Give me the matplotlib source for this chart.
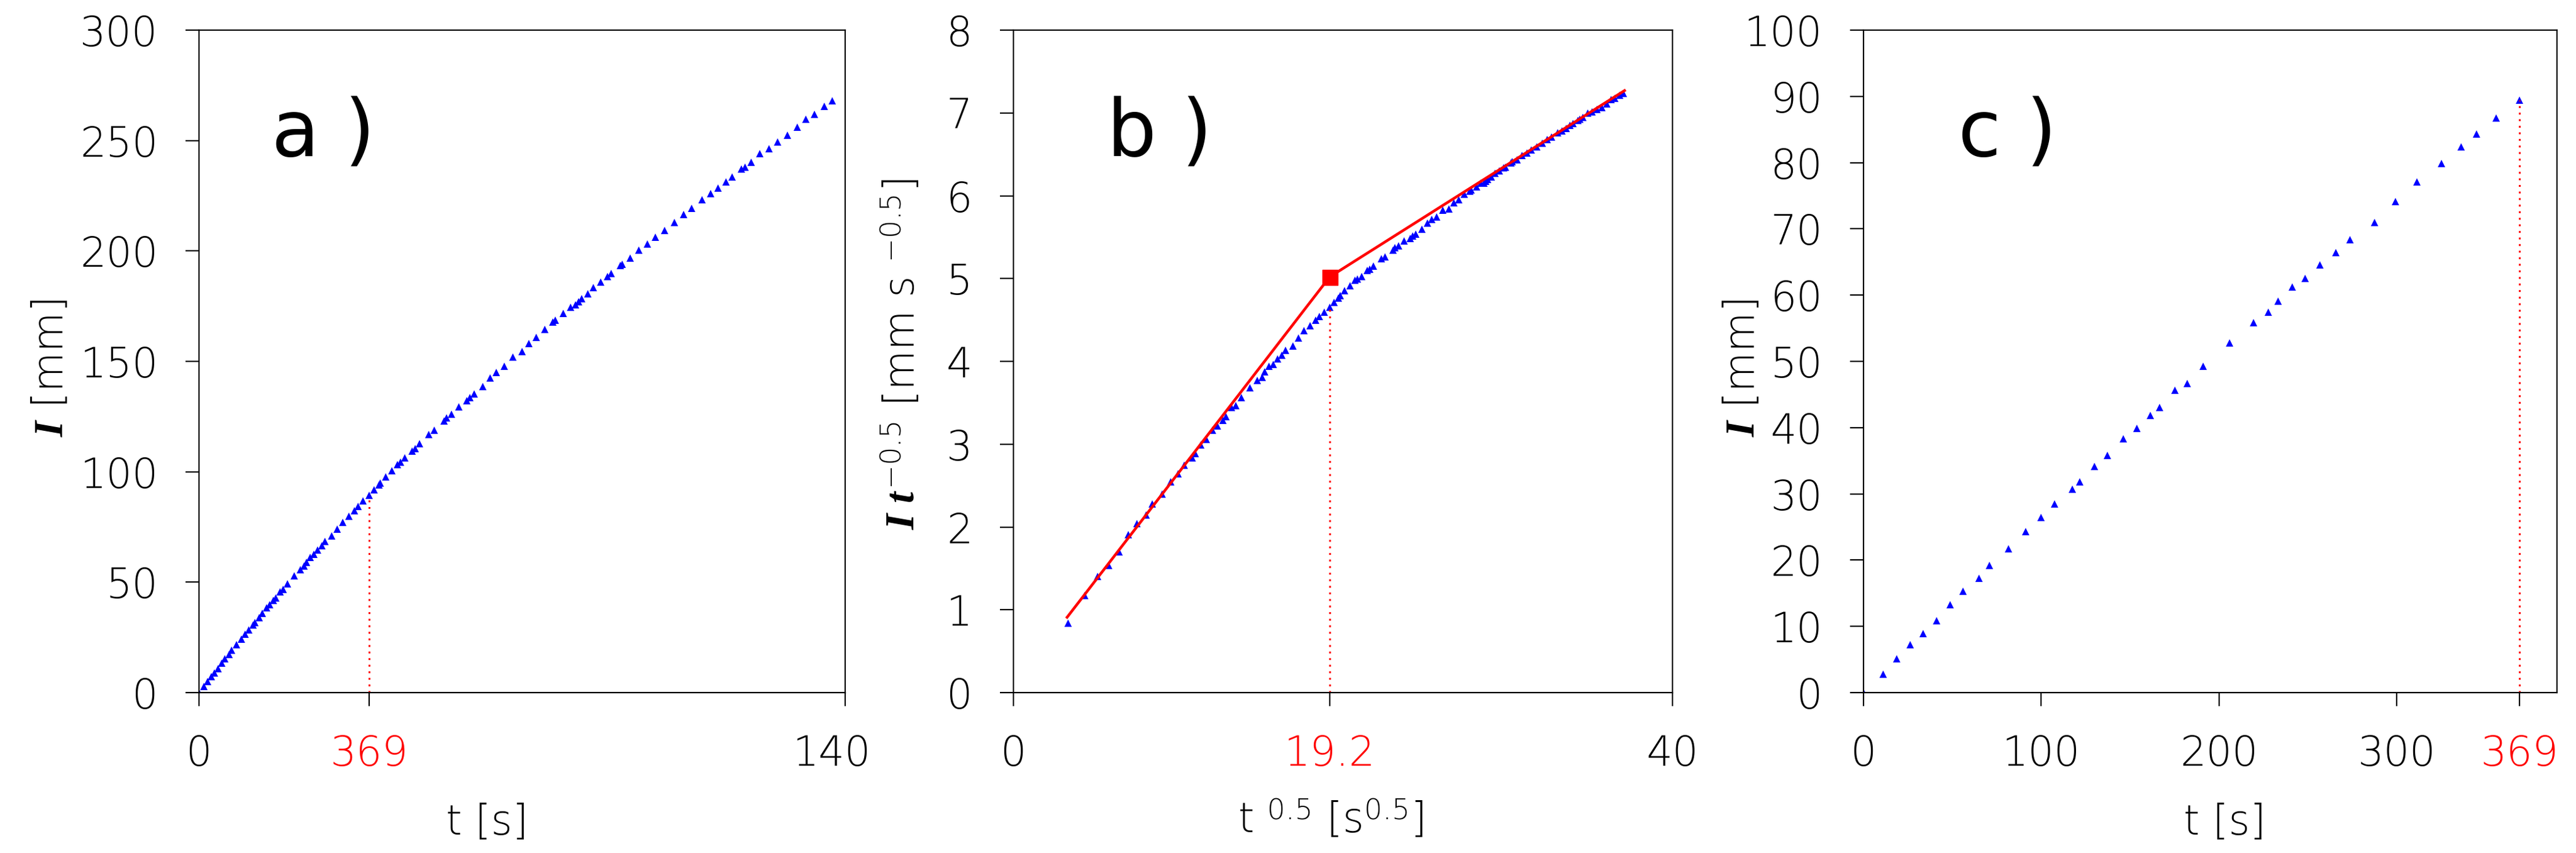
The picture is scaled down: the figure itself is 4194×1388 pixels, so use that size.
import numpy as np
import matplotlib
matplotlib.use("Agg")
import matplotlib.pyplot as plt
from matplotlib.transforms import Bbox

# infiltration data: time [s] and cumulative infiltration I [mm]
t_s = [0.0, 11.1, 18.8, 26.2, 33.6, 41.0, 48.7, 56.1, 65.1, 70.9,
       81.7, 91.3, 99.9, 107.6, 117.5, 121.5, 129.8, 137.2, 146.2, 153.6,
       161.3, 166.5, 175.1, 181.9, 191.2, 206.0, 219.2, 227.6, 233.1, 241.1,
       248.5, 256.8, 265.8, 273.5, 287.4, 299.1, 311.4, 325.0, 336.1, 344.7,
       355.8, 368.8,
       379.3, 389.5, 393.0, 404.2, 417.5, 429.4, 436.1, 446.3, 461.8, 468.5,
       478.2, 498.2, 509.3, 530.6, 535.9, 547.0, 562.5, 580.3, 586.9, 595.8,
       614.9, 631.3, 644.6, 661.0, 680.1, 699.6, 714.7, 731.1, 748.8, 766.6,
       771.9, 789.6, 805.2, 816.2, 822.1, 828.7, 842.0, 854.4, 870.8, 885.5,
       893.0, 913.0, 916.5, 933.8, 952.9, 971.5, 989.2, 1009.2, 1029.7, 1049.6,
       1066.9, 1090.4, 1108.2, 1125.0, 1142.3, 1154.7, 1175.5, 1182.7, 1196.0, 1214.6,
       1234.6, 1253.7, 1275.4, 1296.7, 1315.3, 1333.5, 1354.4, 1372.1]
I_mm = [0.0, 2.8, 5.1, 7.2, 8.9, 10.9, 13.3, 15.3, 17.3, 19.2,
        21.7, 24.3, 26.4, 28.5, 30.7, 31.8, 34.1, 35.8, 38.3, 39.9,
        41.8, 43.0, 45.6, 46.7, 49.3, 52.8, 55.8, 57.4, 59.1, 61.2,
        62.5, 64.6, 66.4, 68.4, 71.0, 74.1, 77.1, 79.9, 82.4, 84.3,
        86.7, 89.4,
        91.8, 94.1, 95.0, 97.6, 100.4, 103.2, 104.3, 106.2, 109.5, 110.6,
        112.7, 116.9, 118.8, 123.1, 124.3, 126.2, 129.4, 132.2, 133.5, 135.2,
        138.7, 142.4, 145.1, 147.7, 151.9, 154.5, 158.1, 160.9, 164.6, 167.7,
        168.6, 171.7, 174.5, 175.7, 177.0, 178.3, 180.7, 183.4, 186.0, 188.5,
        189.7, 193.4, 194.1, 196.7, 200.3, 203.1, 206.2, 209.3, 212.9, 216.5,
        219.2, 223.3, 225.9, 228.6, 231.4, 233.5, 237.0, 238.0, 240.3, 244.0,
        246.3, 249.3, 252.4, 256.1, 259.7, 262.0, 265.6, 267.9]

# break point and the two fitted segments of panel b
t_break = 369
fit_x = [3.26, 19.2, 37.1]
fit_y = [0.91, 5.02, 7.27]

plt.rcParams['font.family'] = 'DejaVu Sans'
plt.rcParams['mathtext.fontset'] = 'custom'
plt.rcParams['mathtext.it'] = 'Liberation Serif:style=italic:weight=bold'
plt.rcParams['mathtext.rm'] = 'DejaVu Sans:weight=200'

THIN = 200
TICK_FS = 48
LABEL_FS = 48

t = np.array(t_s)
I = np.array(I_mm)
i_break = int(np.argmin(np.abs(t - t_break)))
I_break = I[i_break]

fig = plt.figure(figsize=(41.94, 13.88), dpi=100)
bottom, height = 0.188, 0.7767
ax_a = fig.add_axes([0.07725, bottom, 0.2508, height])
ax_b = fig.add_axes([0.3934, bottom, 0.2558, height])
ax_c = fig.add_axes([0.7234, bottom, 0.2692, height])


def style_axes(ax):
    for sp in ax.spines.values():
        sp.set_linewidth(1.6)
    ax.tick_params(direction='out', length=16, width=1.6, pad=32,
                   labelsize=TICK_FS, top=False, right=False)
    for lab in ax.get_xticklabels() + ax.get_yticklabels():
        lab.set_fontweight(THIN)


def put_labels(ax, xlabel, ylabel, xpos, ypos):
    ax.set_xlabel(xlabel, fontsize=LABEL_FS, fontweight=THIN)
    ax.set_ylabel(ylabel, fontsize=LABEL_FS, fontweight=THIN)
    ax.xaxis.set_label_coords(*xpos)
    ax.xaxis.label.set_va('center')
    ax.yaxis.set_label_coords(*ypos)
    ax.yaxis.label.set_va('center')


# a) I against t
ax_a.plot(t, I, '^', color='blue', markersize=9, markeredgewidth=0)
ax_a.plot([t_break, t_break], [0, I_break], color='red', lw=2.2,
          dashes=(1, 2.5))
ax_a.set_xlim(0, 1400)
ax_a.set_ylim(0, 300)
ax_a.set_xticks([0, t_break, 1400], ['0', str(t_break), '1400'])
ax_a.set_yticks(range(0, 301, 50))
style_axes(ax_a)
ax_a.get_xticklabels()[1].set_color('red')
put_labels(ax_a, 't [s]', '$I$ [mm]', (0.446, -0.197), (-0.229, 0.49))
ax_a.text(0.112, 0.81, 'a )', transform=ax_a.transAxes, fontsize=92,
          ha='left', va='baseline')

# b) I t^-0.5 against t^0.5
rt = np.sqrt(t[1:])
ax_b.plot(rt, I[1:] / rt, '^', color='blue', markersize=9, markeredgewidth=0)
ax_b.plot(fit_x, fit_y, color='red', lw=3.2)
ax_b.plot(fit_x[1], fit_y[1], 's', color='red', markersize=18)
ax_b.plot([fit_x[1], fit_x[1]], [0, I_break / np.sqrt(t[i_break])],
          color='red', lw=2.2, dashes=(1, 2.5))
ax_b.set_xlim(0, 40)
ax_b.set_ylim(0, 8)
ax_b.set_xticks([0, fit_x[1], 40], ['0', '19.2', '40'])
ax_b.set_yticks(range(0, 9))
style_axes(ax_b)
ax_b.get_xticklabels()[1].set_color('red')
put_labels(ax_b, 't $^{0.5}$ [s$^{0.5}$]', '$I\\ t^{-0.5}$ [mm s $^{-0.5}$]',
           (0.481, -0.193), (-0.169, 0.511))
ax_b.text(0.1417, 0.81, 'b )', transform=ax_b.transAxes, fontsize=92,
          ha='left', va='baseline')

# c) first part of the test, up to the break
ax_c.plot(t[:i_break + 1], I[:i_break + 1], '^', color='blue', markersize=9,
          markeredgewidth=0)
ax_c.plot([t_break, t_break], [0, I_break], color='red', lw=2.2,
          dashes=(1, 2.5))
ax_c.set_xlim(0, 390)
ax_c.set_ylim(0, 100)
ax_c.set_xticks([0, 100, 200, 300, t_break],
                ['0', '100', '200', '300', str(t_break)])
ax_c.set_yticks(range(0, 101, 10))
style_axes(ax_c)
ax_c.get_xticklabels()[-1].set_color('red')
put_labels(ax_c, 't [s]', '$I$ [mm]', (0.521, -0.197), (-0.174, 0.49))
ax_c.text(0.1364, 0.81, 'c )', transform=ax_c.transAxes, fontsize=92,
          ha='left', va='baseline')

# the panels were placed side by side, so the last tick label of a) is cut off
cut = Bbox([[0, 0], [1413, 1388]])
for tick in ax_a.xaxis.get_major_ticks():
    tick.label1.set_clip_box(cut)
    tick.label1.set_clip_on(True)

fig.savefig('out.png', dpi=100)
